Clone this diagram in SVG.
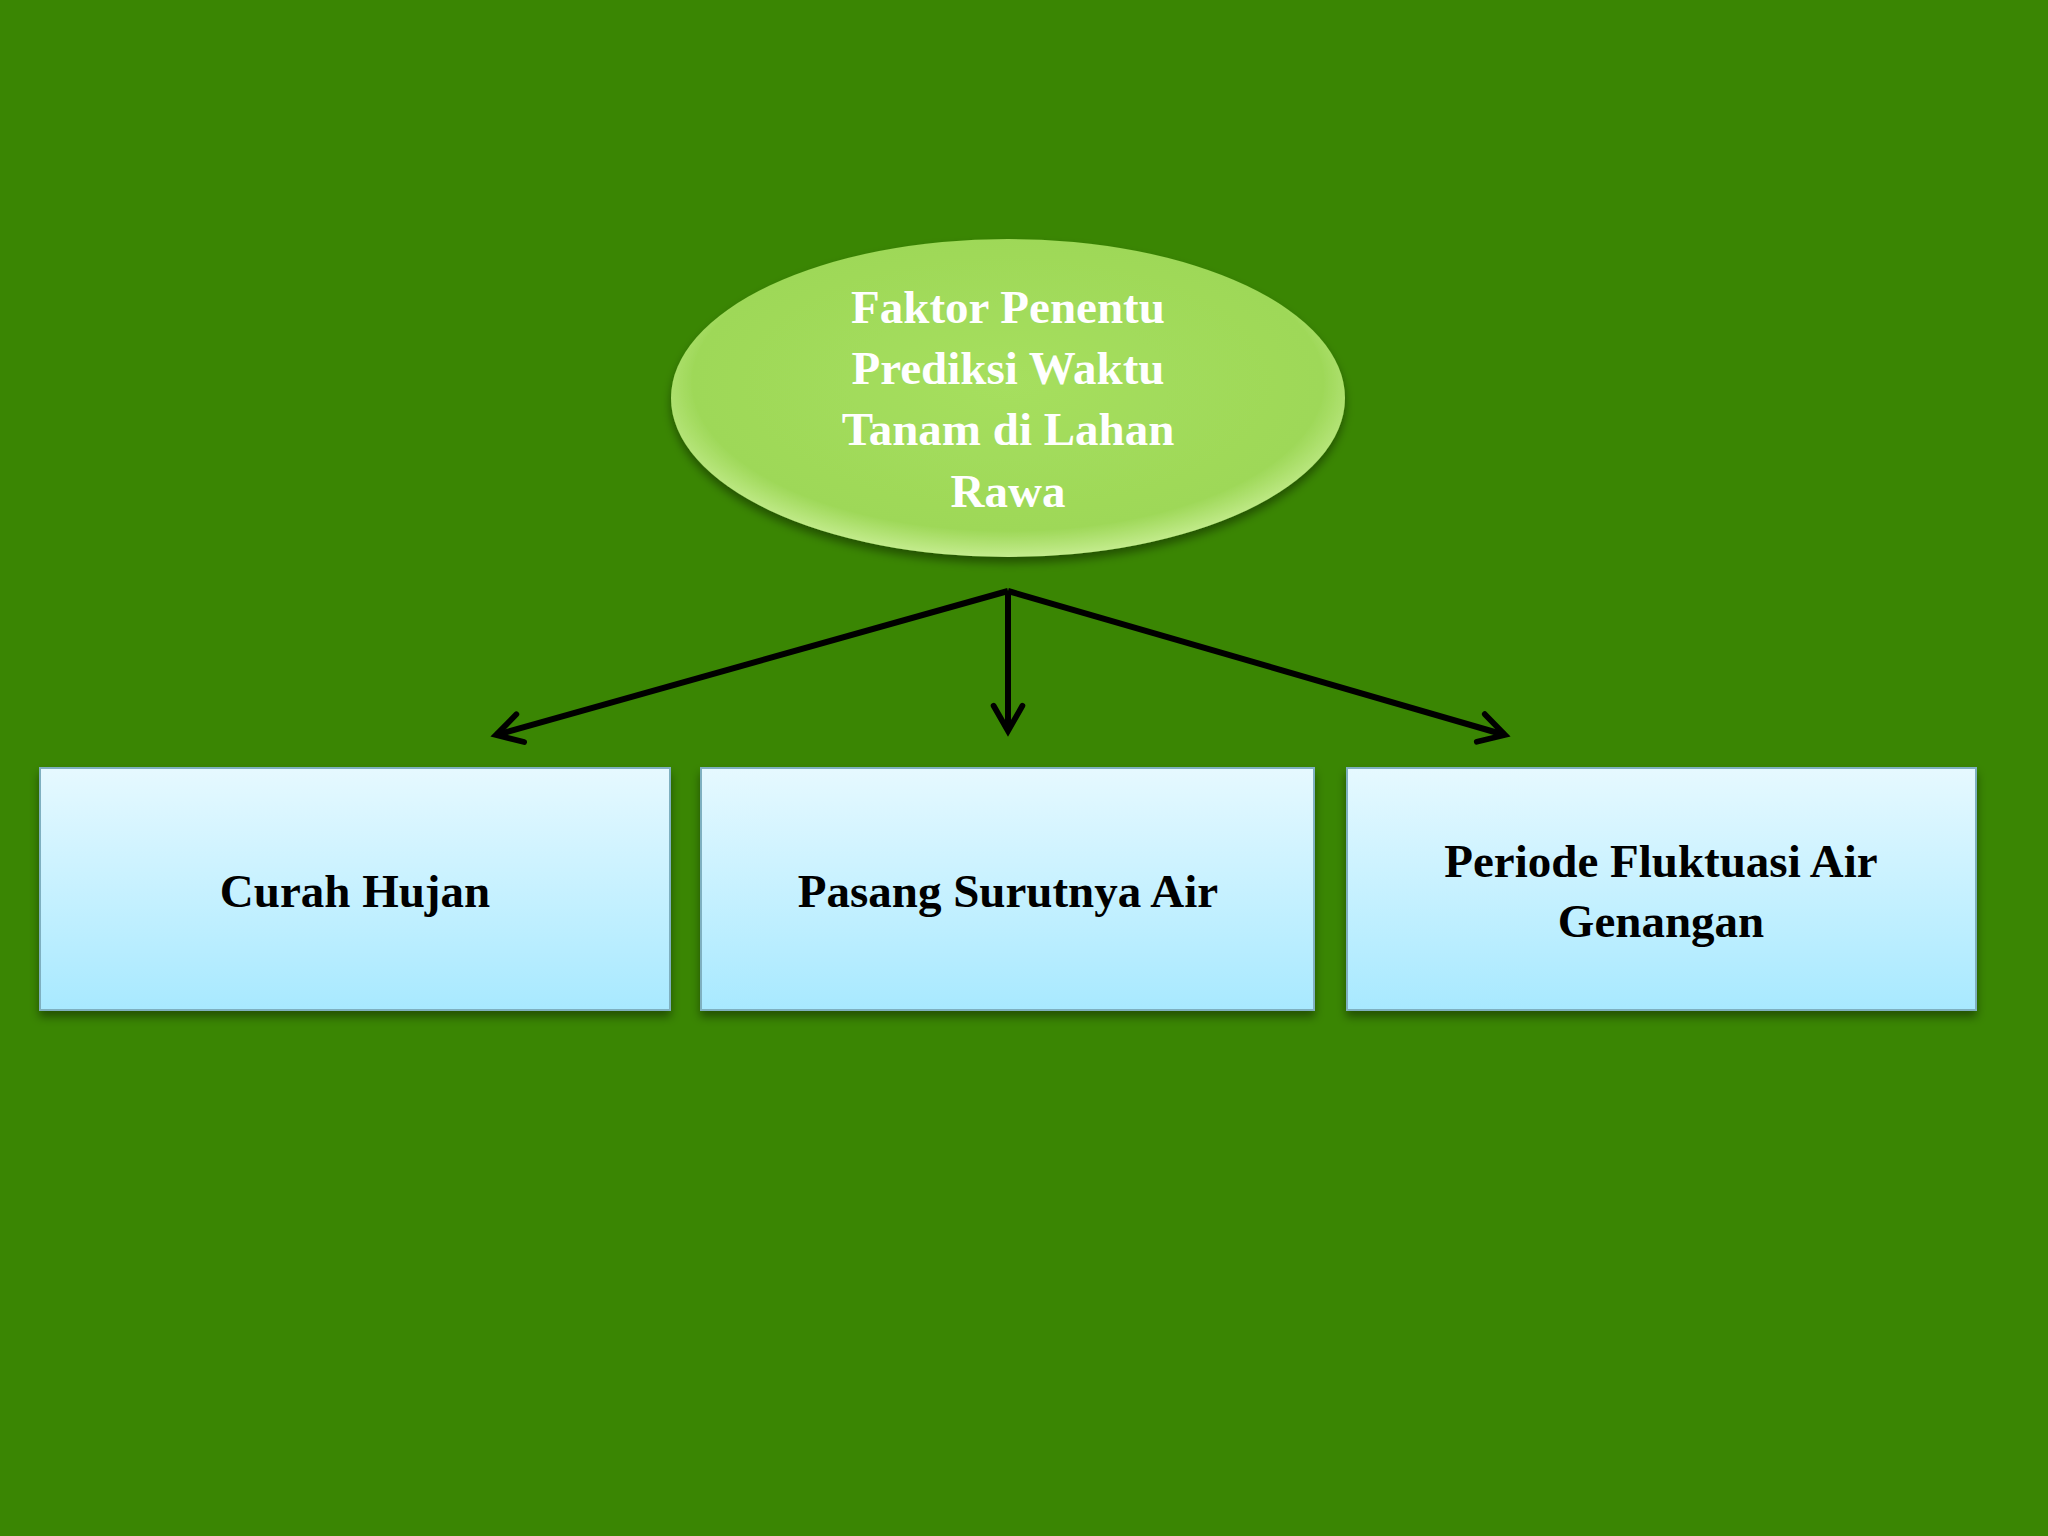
<svg xmlns="http://www.w3.org/2000/svg" width="2048" height="1536" viewBox="0 0 2048 1536">
<defs>
<radialGradient id="eg" cx="50%" cy="45%" r="55%"><stop offset="0" stop-color="#a6df5e"/><stop offset="0.85" stop-color="#9ed858"/><stop offset="1" stop-color="#c4ec8e"/></radialGradient>
<linearGradient id="bg" x1="0" y1="0" x2="0" y2="1"><stop offset="0" stop-color="#e6f9ff"/><stop offset="1" stop-color="#a8e9ff"/></linearGradient>
<marker id="ah" viewBox="0 0 10 10" refX="8" refY="5" markerWidth="6" markerHeight="6" orient="auto"><path d="M1,1 L8,5 L1,9" fill="none" stroke="#000" stroke-width="1.6" stroke-linecap="round"/></marker>
<filter id="sh" x="-10%" y="-10%" width="120%" height="130%"><feDropShadow dx="0" dy="6" stdDeviation="5" flood-color="#000" flood-opacity="0.4"/></filter>
</defs>
<style>
.t{font-family:"Liberation Serif",serif;font-weight:bold;font-size:47px;text-anchor:middle}
.box{fill:url(#bg);stroke:#7fb0c0;stroke-width:2;filter:url(#sh)}
</style>
<rect width="2048" height="1536" fill="#3a8603"/>
<g id="root">
<ellipse cx="1008" cy="398" rx="337" ry="159" fill="url(#eg)" filter="url(#sh)"/>
<text class="t" fill="#fff" x="1008" y="323">Faktor  Penentu</text>
<text class="t" fill="#fff" x="1008" y="384">Prediksi  Waktu</text>
<text class="t" fill="#fff" x="1008" y="445">Tanam di Lahan</text>
<text class="t" fill="#fff" x="1008" y="507">Rawa</text>
</g>
<g id="connectors" stroke="#000" stroke-width="6" fill="none" marker-end="url(#ah)">
<line x1="1008" y1="591" x2="496" y2="735"/>
<line x1="1008" y1="591" x2="1008" y2="731"/>
<line x1="1008" y1="591" x2="1505" y2="735"/>
</g>
<g id="n1"><rect class="box" x="40" y="768" width="630" height="242"/><text class="t" x="355" y="907">Curah Hujan</text></g>
<g id="n2"><rect class="box" x="701" y="768" width="613" height="242"/><text class="t" x="1008" y="907">Pasang Surutnya Air</text></g>
<g id="n3"><rect class="box" x="1347" y="768" width="629" height="242"/><text class="t" x="1661" y="877">Periode Fluktuasi  Air</text><text class="t" x="1661" y="937">Genangan</text></g>
</svg>
